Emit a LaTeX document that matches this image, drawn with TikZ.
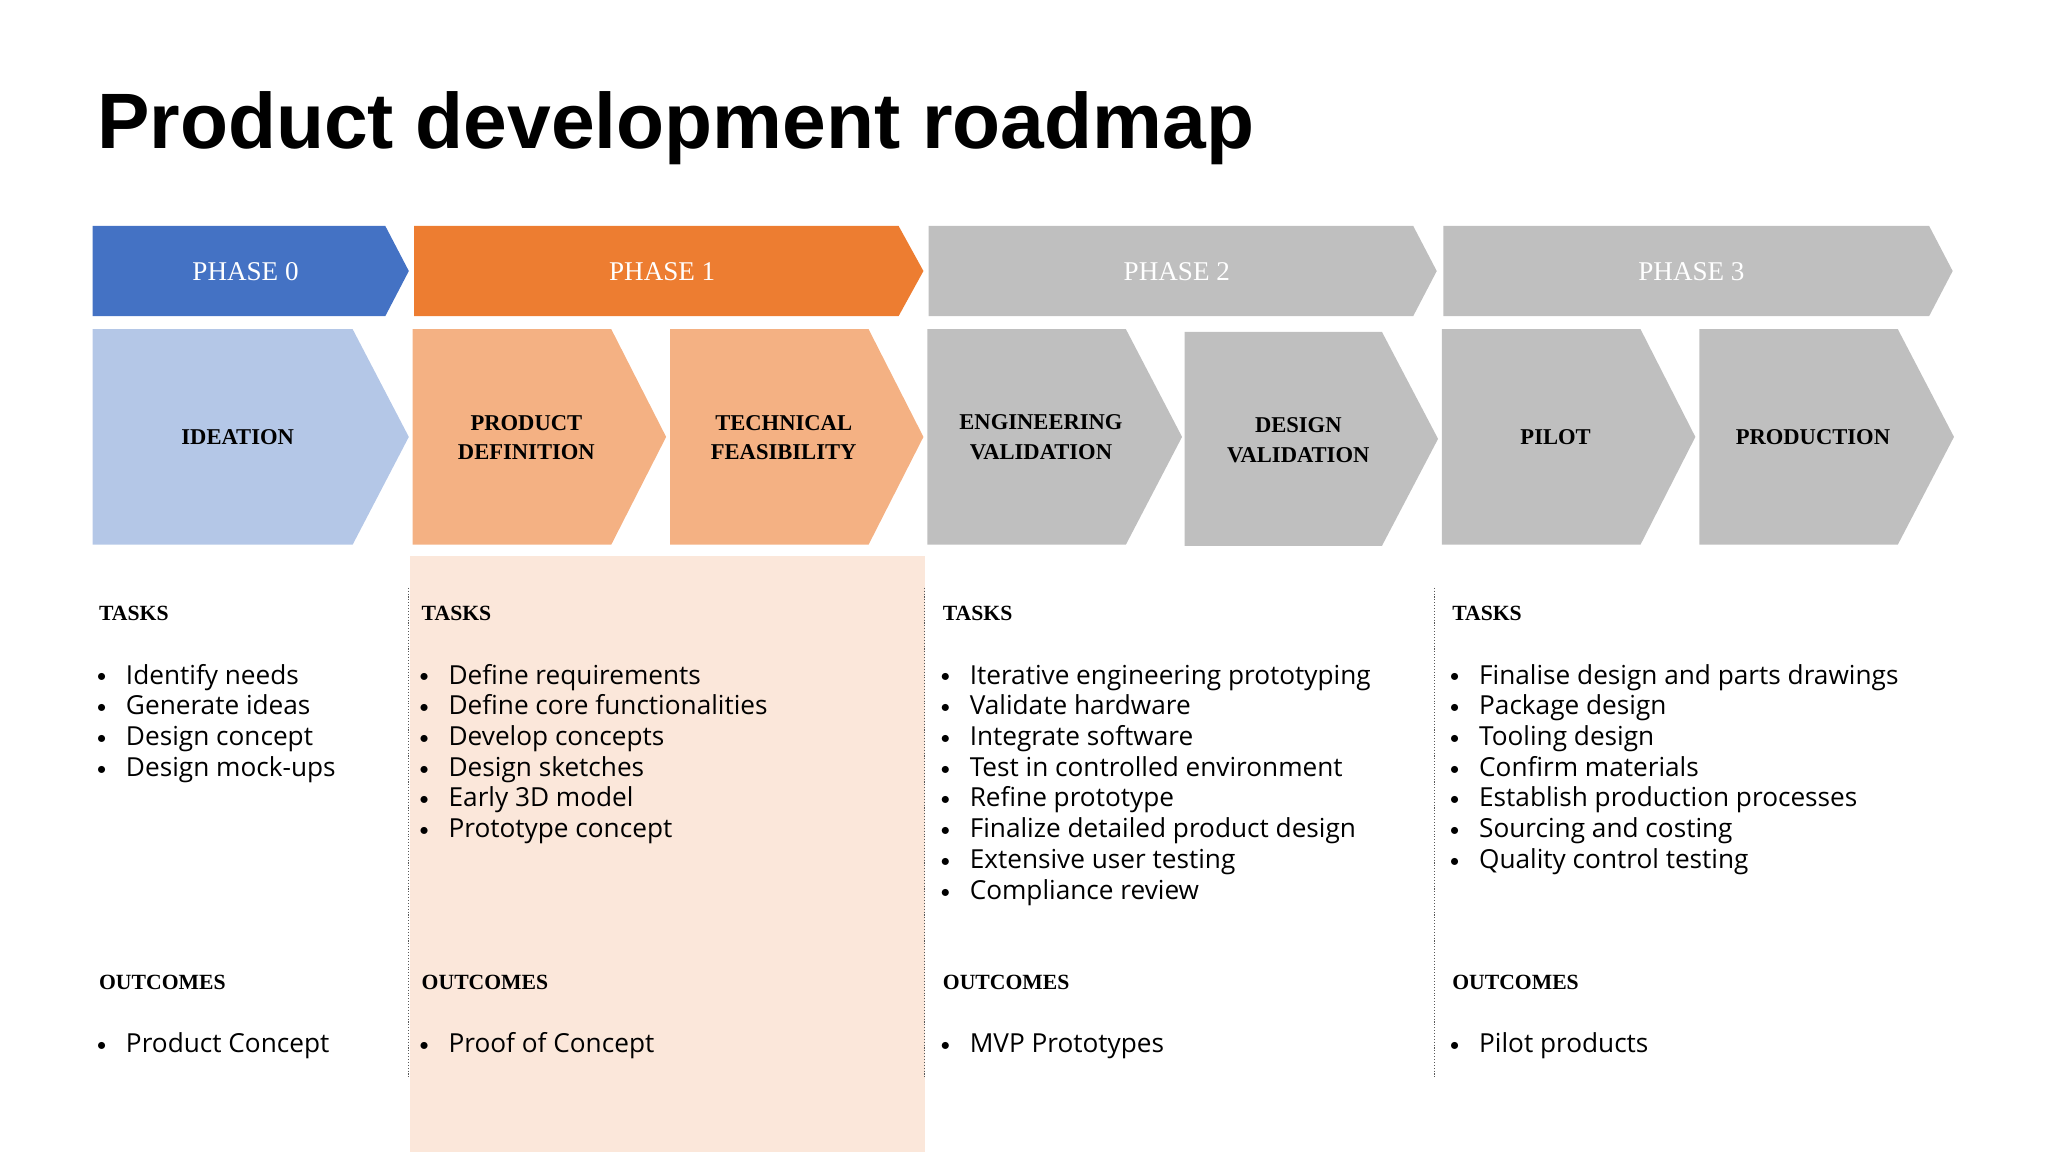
\documentclass[tikz,border=0pt]{standalone}
\usepackage{fontspec}
\setmainfont{Liberation Serif}
\newfontfamily\titlefont{Liberation Sans}
\newfontfamily\bodyfont{Open Sans}
\definecolor{pblue}{HTML}{4472C4}
\definecolor{porange}{HTML}{ED7D31}
\definecolor{pgray}{HTML}{BFBFBF}
\definecolor{lblue}{HTML}{B4C7E7}
\definecolor{lorange}{HTML}{F4B183}
\definecolor{colshade}{HTML}{FBE7DA}
\newcommand{\chev}[6]{% x1,x2(start of point),x3(tip),ytop,ybot,color
  \fill[#6] (#1,#4) -- (#2,#4) -- (#3,{(#4+#5)/2}) -- (#2,#5) -- (#1,#5) -- cycle;}
\begin{document}
\begin{tikzpicture}[x=0.0254cm,y=-0.0254cm,
  ph/.style={text=white,font=\fontsize{15}{17}\selectfont},
  st/.style={font=\bfseries\fontsize{12.5}{16.5}\selectfont,align=center},
  hd/.style={anchor=west,font=\bfseries\fontsize{12}{15}\selectfont},
  bl/.style={anchor=north west,font=\bodyfont\fontsize{14.5}{17}\selectfont,align=left,inner sep=0pt},
  dl/.style={densely dotted,gray!70!black,line width=0.6pt}]
\useasboundingbox (0,0) rectangle (1568,882);
\fill[colshade] (314,426) rectangle (708,882);
\node[anchor=west,font=\titlefont\bfseries\fontsize{43.5}{48}\selectfont,inner sep=0pt] (title) at (74,98) {Product development roadmap};
% phases
\chev{71}{295}{313}{173}{242}{pblue}
\chev{317}{688}{707}{173}{242}{porange}
\chev{711}{1082}{1100}{173}{242}{pgray}
\chev{1105}{1477}{1495}{173}{242}{pgray}
\node[ph] (p0) at (188,208) {PHASE 0};
\node[ph] (p1) at (507,208) {PHASE 1};
\node[ph] (p2) at (901,208) {PHASE 2};
\node[ph] (p3) at (1295,208) {PHASE 3};
% stages
\chev{71}{270}{313}{252}{417}{lblue}
\chev{316}{468}{510}{252}{417}{lorange}
\chev{513}{665}{707}{252}{417}{lorange}
\chev{710}{862}{905}{252}{417}{pgray}
\chev{907}{1058}{1101}{254}{418}{pgray}
\chev{1104}{1256}{1298}{252}{417}{pgray}
\chev{1301}{1453}{1496}{252}{417}{pgray}
\node[st] (s1) at (182,335) {IDEATION};
\node[st] (s2) at (403,335) {PRODUCT\\DEFINITION};
\node[st] (s3) at (600,335) {TECHNICAL\\FEASIBILITY};
\node[st] (s4) at (797,335) {ENGINEERING\\VALIDATION};
\node[st] (s5) at (994,337) {DESIGN\\VALIDATION};
\node[st] (s6) at (1191,335) {PILOT};
\node[st] (s7) at (1388,335) {PRODUCTION};
% dotted separators
\draw[dl] (313,450) -- (313,825);
\draw[dl] (708,450) -- (708,825);
\draw[dl] (1098,450) -- (1098,825);
% columns
\foreach \x/\n in {75/a,322/b,721/c,1111/d}{
  \node[hd] (t\n) at (\x-4,470) {TASKS};
  \node[hd] (o\n) at (\x-4,752) {OUTCOMES};
}
\def\b{\raisebox{0.15ex}{\scalebox{0.7}{$\bullet$}}&}
\node[bl] (la) at (74,507) {\begin{tabular}{@{}l@{\hspace{11pt}}l@{}}\b Identify needs\\\b Generate ideas\\\b Design concept\\\b Design mock-ups\end{tabular}};
\node[bl] (lb) at (321,507) {\begin{tabular}{@{}l@{\hspace{11pt}}l@{}}\b Define requirements\\\b Define core functionalities\\\b Develop concepts\\\b Design sketches\\\b Early 3D model\\\b Prototype concept\end{tabular}};
\node[bl] (lc) at (720,507) {\begin{tabular}{@{}l@{\hspace{11pt}}l@{}}\b Iterative engineering prototyping\\\b Validate hardware\\\b Integrate software\\\b Test in controlled environment\\\b Refine prototype\\\b Finalize detailed product design\\\b Extensive user testing\\\b Compliance review\end{tabular}};
\node[bl] (ld) at (1110,507) {\begin{tabular}{@{}l@{\hspace{11pt}}l@{}}\b Finalise design and parts drawings\\\b Package design\\\b Tooling design\\\b Confirm materials\\\b Establish production processes\\\b Sourcing and costing\\\b Quality control testing\end{tabular}};
\node[bl] (ma) at (74,789) {\begin{tabular}{@{}l@{\hspace{11pt}}l@{}}\b Product Concept\end{tabular}};
\node[bl] (mb) at (321,789) {\begin{tabular}{@{}l@{\hspace{11pt}}l@{}}\b Proof of Concept\end{tabular}};
\node[bl] (mc) at (720,789) {\begin{tabular}{@{}l@{\hspace{11pt}}l@{}}\b MVP Prototypes\end{tabular}};
\node[bl] (md) at (1110,789) {\begin{tabular}{@{}l@{\hspace{11pt}}l@{}}\b Pilot products\end{tabular}};
\end{tikzpicture}
\end{document}
